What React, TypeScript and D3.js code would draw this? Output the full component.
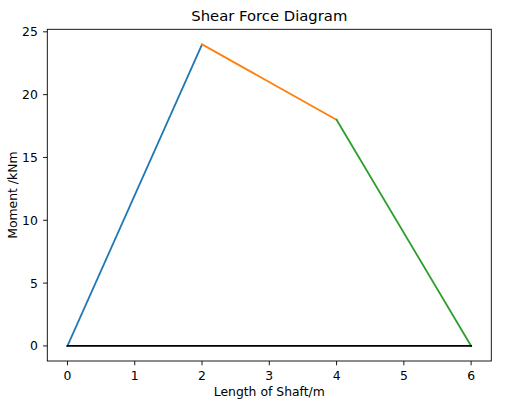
import React from "react";
import * as d3 from "d3";

const blueX = [0, 2];
const blueY = [0, 24];
const orangeX = [2, 4];
const orangeY = [24, 18];
const greenX = [4, 6];
const greenY = [18, 0];
const baseX = [0, 6];
const baseY = [0, 0];
const xTicks = [0, 1, 2, 3, 4, 5, 6];
const yTicks = [0, 5, 10, 15, 20, 25];

const W = 513;
const H = 407;
const m = { left: 47.3, right: 491.3, top: 29.3, bottom: 361 };
const FONT = "DejaVu Sans, sans-serif";
const FS = 12.4;

export default function App() {
  const x = d3.scaleLinear().domain([-0.3, 6.3]).range([m.left, m.right]);
  const y = d3.scaleLinear().domain([-1.2, 25.2]).range([m.bottom, m.top]);
  const line = d3
    .line<[number, number]>()
    .x((d) => x(d[0]))
    .y((d) => y(d[1]));
  const series = [
    { xs: blueX, ys: blueY, c: "#1f77b4" },
    { xs: orangeX, ys: orangeY, c: "#ff7f0e" },
    { xs: greenX, ys: greenY, c: "#2ca02c" },
    { xs: baseX, ys: baseY, c: "#000000" },
  ];
  return (
    <svg
      width={W}
      height={H}
      style={{ position: "absolute", left: 0, top: 0, background: "#fff" }}
      fontFamily={FONT}
    >
      <rect x={0} y={0} width={W} height={H} fill="#fff" />
      {series.map((s, i) => (
        <path
          key={i}
          d={line(s.xs.map((v, j) => [v, s.ys[j]] as [number, number])) || ""}
          fill="none"
          stroke={s.c}
          strokeWidth={1.8}
          strokeLinecap="square"
        />
      ))}
      <rect
        x={m.left}
        y={m.top}
        width={m.right - m.left}
        height={m.bottom - m.top}
        fill="none"
        stroke="#000"
        strokeWidth={0.9}
      />
      {xTicks.map((t) => (
        <g key={"x" + t}>
          <line x1={x(t)} x2={x(t)} y1={m.bottom} y2={m.bottom + 4.3} stroke="#000" strokeWidth={0.9} />
          <text x={x(t)} y={379.5} textAnchor="middle" fontSize={FS} fill="#000">
            {t}
          </text>
        </g>
      ))}
      {yTicks.map((t) => (
        <g key={"y" + t}>
          <line x1={m.left - 4.3} x2={m.left} y1={y(t)} y2={y(t)} stroke="#000" strokeWidth={0.9} />
          <text x={m.left - 9.5} y={y(t)} dy="0.36em" textAnchor="end" fontSize={FS} fill="#000">
            {t}
          </text>
        </g>
      ))}
      <text x={(m.left + m.right) / 2} y={396} textAnchor="middle" fontSize={FS} fill="#000">
        Length of Shaft/m
      </text>
      <text
        transform={`translate(16.5,${(m.top + m.bottom) / 2}) rotate(-90)`}
        textAnchor="middle"
        fontSize={FS}
        fill="#000"
      >
        Moment /kNm
      </text>
      <text x={(m.left + m.right) / 2} y={21.3} textAnchor="middle" fontSize={14.8} fill="#000">
        Shear Force Diagram
      </text>
    </svg>
  );
}
